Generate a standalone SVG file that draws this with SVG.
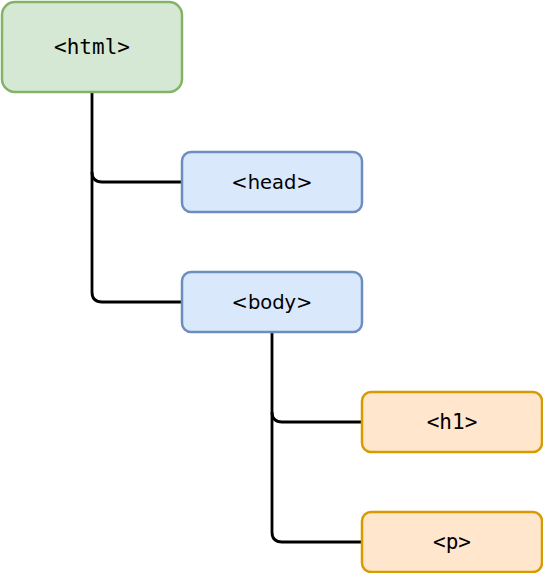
<svg xmlns="http://www.w3.org/2000/svg" width="543" height="573" viewBox="0 0 543 573">
<style>
.box{stroke-width:2.5}
.g{fill:#d5e8d4;stroke:#82b366}
.b{fill:#dae8fc;stroke:#6c8ebf}
.o{fill:#ffe6cc;stroke:#d79b00}
.mono{font-family:"DejaVu Sans Mono","Liberation Mono",monospace;font-size:21px;text-anchor:middle;fill:#000}
.sans{font-family:"DejaVu Sans","Liberation Sans",sans-serif;font-size:19.5px;text-anchor:middle;fill:#000}
.c{fill:none;stroke:#000;stroke-width:2.8}
</style>
<rect width="543" height="573" fill="#fff"/>
<g id="connectors">
<path class="c" d="M92 92 V172 Q92 182 102 182 H182"/>
<path class="c" d="M92 172 V292 Q92 302 102 302 H182"/>
<path class="c" d="M272 332 V412 Q272 422 282 422 H362"/>
<path class="c" d="M272 412 V532 Q272 542 282 542 H362"/>
</g>
<g id="html"><rect class="box g" x="2" y="2" width="180" height="90" rx="13"/><text class="mono" x="92" y="54">&lt;html&gt;</text></g>
<g id="head"><rect class="box b" x="182" y="152" width="180" height="60" rx="9"/><text class="sans" x="272" y="189">&lt;head&gt;</text></g>
<g id="body"><rect class="box b" x="182" y="272" width="180" height="60" rx="9"/><text class="sans" x="272" y="309">&lt;body&gt;</text></g>
<g id="h1"><rect class="box o" x="362" y="392" width="180" height="60" rx="9"/><text class="mono" x="452" y="429">&lt;h1&gt;</text></g>
<g id="p"><rect class="box o" x="362" y="512" width="180" height="60" rx="9"/><text class="mono" x="452" y="549">&lt;p&gt;</text></g>
</svg>
